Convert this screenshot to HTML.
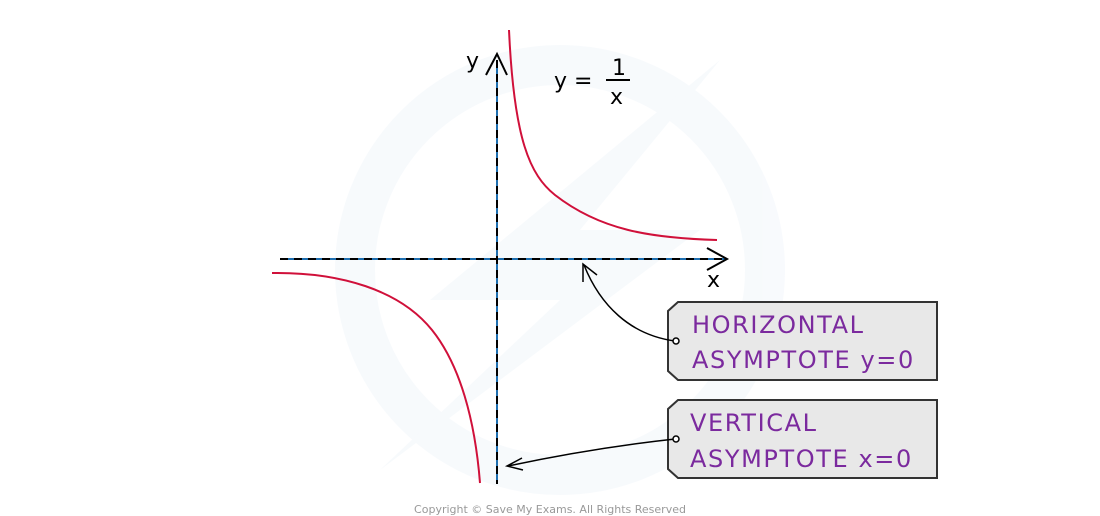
<!DOCTYPE html>
<html><head><style>
body{margin:0;background:#fff;}
svg{display:block;}
text{font-family:"DejaVu Sans","Liberation Sans",sans-serif;}
</style></head><body>
<svg width="1100" height="516" viewBox="0 0 1100 516">
<g opacity="0.035" fill="#3b7fc4">
<circle cx="560" cy="270" r="205" fill="none" stroke="#3b7fc4" stroke-width="40"/>
<polygon points="720,60 430,300 560,300 380,470 700,230 580,230"/>
</g>
<!-- axes -->
<line x1="280" y1="259" x2="725" y2="259" stroke="#1f6fb0" stroke-width="2"/>
<line x1="280" y1="259" x2="725" y2="259" stroke="#000" stroke-width="2" stroke-dasharray="8,6"/>
<line x1="497" y1="60" x2="497" y2="484" stroke="#1f6fb0" stroke-width="2"/>
<line x1="497" y1="60" x2="497" y2="484" stroke="#000" stroke-width="2" stroke-dasharray="8,6"/>
<polyline points="486,75 497,54 507,75" fill="none" stroke="#000" stroke-width="2"/>
<polyline points="707,248 727,259 707,270" fill="none" stroke="#000" stroke-width="2"/>
<text x="466" y="68" font-size="22">y</text>
<text x="707" y="287" font-size="22">x</text>
<text x="554" y="88" font-size="22">y =</text>
<text x="612" y="75" font-size="22">1</text>
<line x1="606" y1="80" x2="630" y2="80" stroke="#000" stroke-width="2"/>
<text x="610" y="104" font-size="22">x</text>
<!-- curves -->
<path d="M509,30 C514,140 530,175 555,195 C600,230 650,238 717,240" fill="none" stroke="#d0103a" stroke-width="2"/>
<path d="M272,273 C340,272 400,290 432,330 C460,365 475,420 480,483" fill="none" stroke="#d0103a" stroke-width="2"/>
<!-- boxes -->
<g fill="#e8e8e8" stroke="#333" stroke-width="2">
<polygon points="678,302 937,302 937,380 678,380 668,371 668,311"/>
<polygon points="678,400 937,400 937,478 678,478 668,469 668,409"/>
</g>
<g fill="#7b2a9e" font-size="24" letter-spacing="1.6">
<text x="692" y="333">HORIZONTAL</text>
<text x="692" y="368">ASYMPTOTE y=0</text>
<text x="690" y="431">VERTICAL</text>
<text x="690" y="467">ASYMPTOTE x=0</text>
</g>
<!-- pointers -->
<path d="M675,341 C630,335 600,305 584,265" fill="none" stroke="#000" stroke-width="1.5"/>
<polyline points="583,282 583,264 597,275" fill="none" stroke="#000" stroke-width="1.5"/>
<circle cx="676" cy="341" r="3" fill="#fff" stroke="#000" stroke-width="1.5"/>
<path d="M675,439 C620,445 560,455 508,466" fill="none" stroke="#000" stroke-width="1.5"/>
<polyline points="522,458 507,466 523,470" fill="none" stroke="#000" stroke-width="1.5"/>
<circle cx="676" cy="439" r="3" fill="#fff" stroke="#000" stroke-width="1.5"/>
<text x="550" y="513" font-size="11" fill="#999" text-anchor="middle" font-family="Liberation Sans">Copyright © Save My Exams. All Rights Reserved</text>
</svg>
</body></html>
